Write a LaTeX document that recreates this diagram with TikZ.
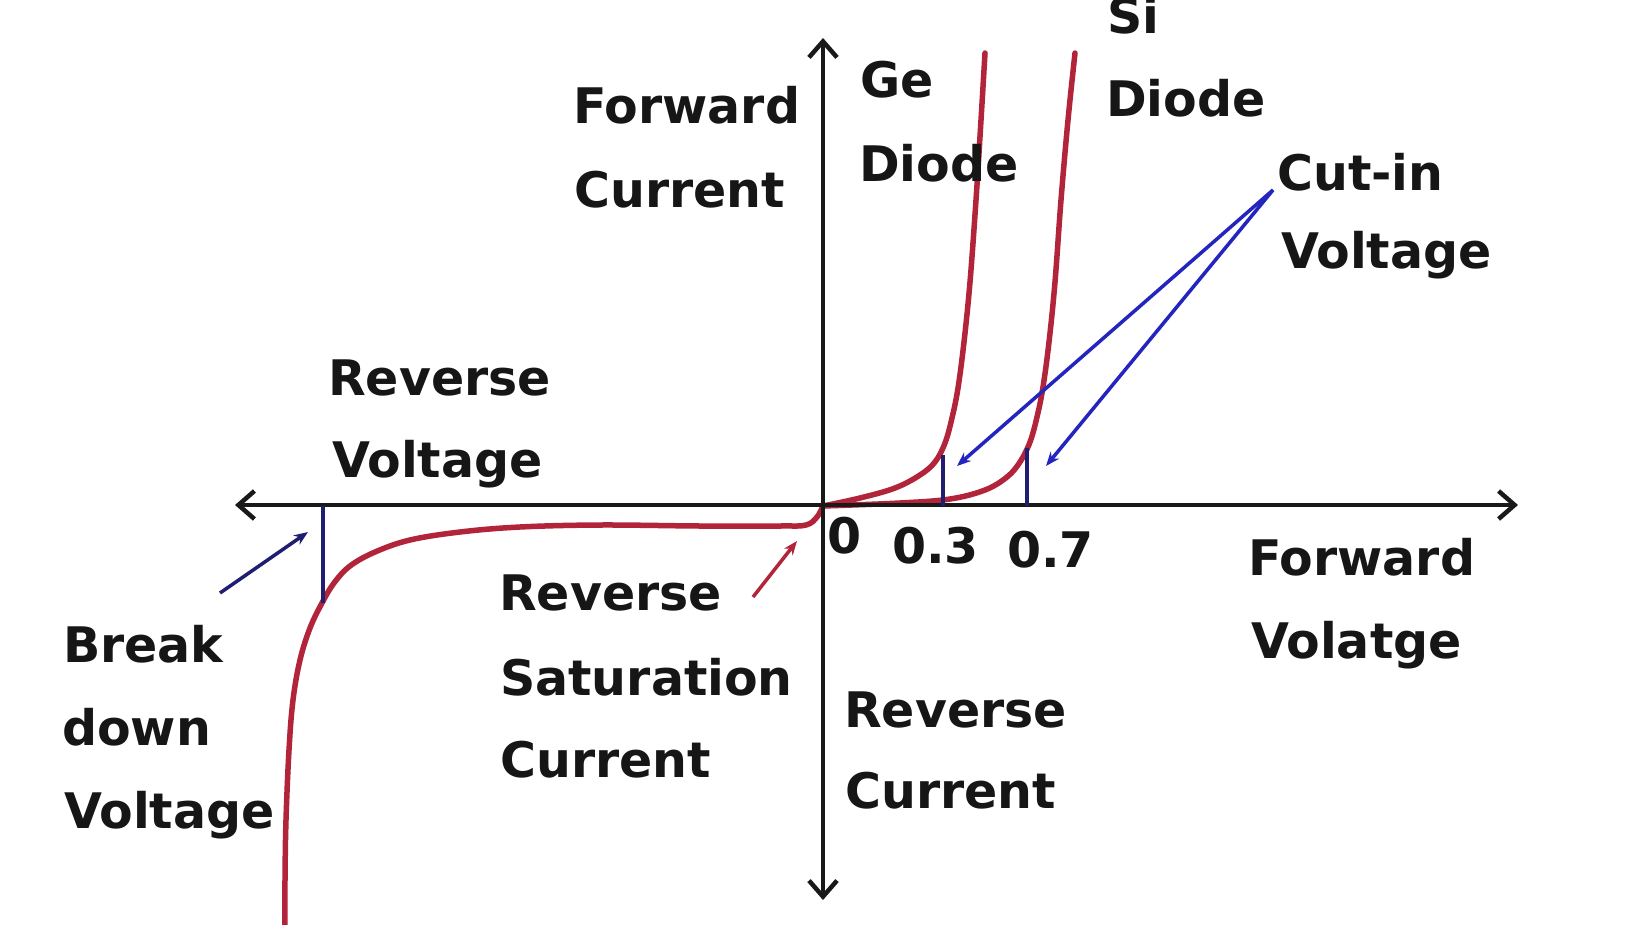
\documentclass[tikz,border=0pt]{standalone}
\usepackage{fontspec}
\setmainfont{DejaVu Sans}
\usetikzlibrary{arrows.meta}
\definecolor{curvered}{RGB}{178,36,58}
\definecolor{navy}{RGB}{32,30,112}
\definecolor{cutblue}{RGB}{36,36,190}
\definecolor{txt}{RGB}{22,22,22}
\tikzset{
  lbl/.style={anchor=base west, inner sep=0pt, text=txt,
    font=\fontsize{49bp}{58bp}\selectfont\bfseries},
  axisline/.style={line width=4.5bp, black!90},
  diodecurve/.style={line width=5.5bp, curvered, line cap=round, line join=round},
  marker/.style={line width=3.5bp, navy},
  pointer/.style={line width=3.5bp, -{Stealth[length=14bp,width=11bp]}},
}
\begin{document}
\begin{tikzpicture}[x=1bp,y=-1bp]
\useasboundingbox (0,0) rectangle (1640,924);
\fill[white] (0,0) rectangle (1640,924);

% coordinates
\coordinate (O) at (823,506);
\coordinate (xl) at (235,505);
\coordinate (xr) at (1518,505);
\coordinate (yt) at (823,38);
\coordinate (yb) at (823,900);
\coordinate (geb) at (943,506);
\coordinate (get) at (943,455);
\coordinate (sib) at (1027,506);
\coordinate (sit) at (1027,448);
\coordinate (bdt) at (323,506);
\coordinate (bdb) at (323,603);
\coordinate (cutsrc) at (1273,190);
\coordinate (getip) at (957,466);
\coordinate (sitip) at (1046,466);
\coordinate (bdsrc) at (220,593);
\coordinate (bdtip) at (308,532);
\coordinate (rssrc) at (753,597);
\coordinate (rstip) at (797,541);

% curves
\draw[diodecurve] plot[smooth, tension=0.6] coordinates {
  (823,506) (860,498) (895,488) (920,475) (935,462) (945,443) (952,418)
  (958,388) (964,342) (970,282) (976,200) (981,120) (985,53)};
\draw[diodecurve] plot[smooth, tension=0.6] coordinates {
  (823,506) (900,503) (950,499) (985,490) (1007,477) (1020,462) (1030,442)
  (1037,417) (1043,387) (1049,342) (1055,282) (1061,200) (1068,120) (1075,53)};
\draw[diodecurve] plot[smooth, tension=0.6] coordinates {
  (823,506) (817,517) (806,525) (780,526) (700,526) (600,525) (520,527)
  (460,532) (410,540) (375,552) (350,566) (334,583) (322,603) (310,628)
  (300,660) (293,700) (289,750) (286,820) (285,880) (285,935)};

% axes
\draw[axisline, {Straight Barb[length=16bp,width=28bp]}-{Straight Barb[length=16bp,width=28bp]}] (xl) -- (xr);
\draw[axisline, {Straight Barb[length=16bp,width=28bp]}-{Straight Barb[length=16bp,width=28bp]}] (yb) -- (yt);

% markers
\draw[marker] (geb) -- (get);
\draw[marker] (sib) -- (sit);
\draw[marker] (bdt) -- (bdb);

% pointers
\draw[pointer, cutblue] (cutsrc) -- (getip);
\draw[pointer, cutblue] (cutsrc) -- (sitip);
\draw[pointer, navy] (bdsrc) -- (bdtip);
\draw[pointer, curvered] (rssrc) -- (rstip);

% labels
\node[lbl] (fc1) at (573,123) {Forward};
\node[lbl] (fc2) at (574,207) {Current};
\node[lbl] (ge1) at (860,97) {Ge};
\node[lbl] (ge2) at (859,181) {Diode};
\node[lbl] (si1) at (1107,33) {Si};
\node[lbl] (si2) at (1106,116) {Diode};
\node[lbl] (cv1) at (1277,190) {Cut-in};
\node[lbl] (cv2) at (1281,268) {Voltage};
\node[lbl] (rv1) at (328,395) {Reverse};
\node[lbl] (rv2) at (332,477) {Voltage};
\node[lbl] (z0) at (827,553) {0};
\node[lbl] (z3) at (892,563) {0.3};
\node[lbl] (z7) at (1007,567) {0.7};
\node[lbl] (fv1) at (1248,575) {Forward};
\node[lbl] (fv2) at (1251,658) {Volatge};
\node[lbl] (rs1) at (499,610) {Reverse};
\node[lbl] (rs2) at (500,695) {Saturation};
\node[lbl] (rs3) at (500,777) {Current};
\node[lbl] (rc1) at (844,727) {Reverse};
\node[lbl] (rc2) at (845,808) {Current};
\node[lbl] (bd1) at (63,662) {Break};
\node[lbl] (bd2) at (62,745) {down};
\node[lbl] (bd3) at (64,828) {Voltage};
\end{tikzpicture}
\end{document}
